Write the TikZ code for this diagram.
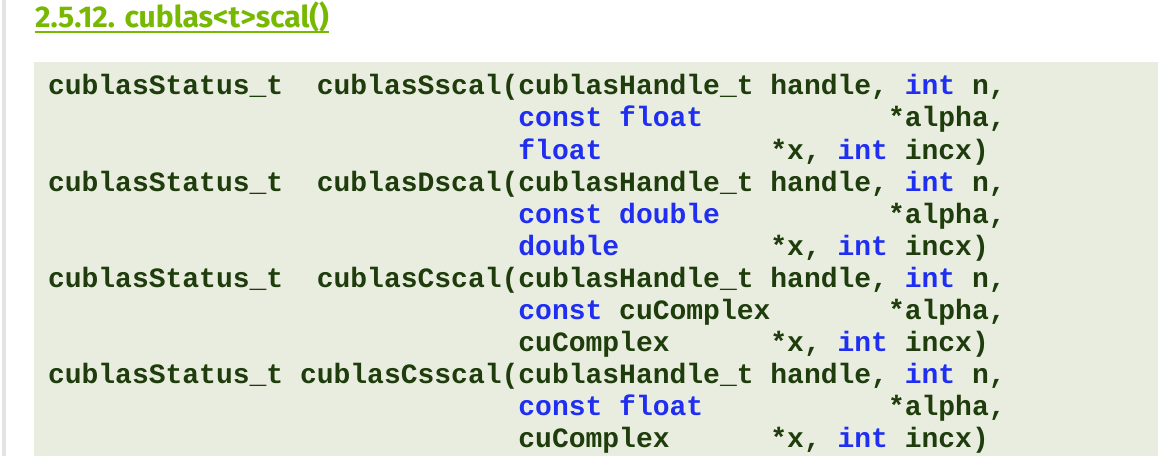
\documentclass[tikz,border=0pt]{standalone}
\usepackage{fontspec}
\setmonofont{Liberation Mono}
\newfontfamily\titlefont{Fira Sans}
\definecolor{codebg}{HTML}{E9EDE0}
\definecolor{codetx}{HTML}{1F3D0C}
\definecolor{kw}{HTML}{1F2EF0}
\definecolor{ttl}{HTML}{76B900}
\definecolor{strip}{HTML}{E4E4E4}
\tikzset{seg/.style={anchor=base west,inner sep=0pt,outer sep=0pt,font=\ttfamily\bfseries\fontsize{28}{30}\selectfont,text=codetx},
 k/.style={seg,text=kw}}
\newcommand{\cw}{16.8}
\begin{document}
\begin{tikzpicture}[x=1pt,y=1pt]
\useasboundingbox (0,0) rectangle (1158,456);
\fill[white] (0,0) rectangle (1158,456);
\fill[strip] (2,0) rectangle (6,456);
\fill[codebg] (34,0) rectangle (1158,394);
\node[anchor=base west,inner sep=0pt,text=ttl,font=\titlefont\bfseries\fontsize{30}{32}\selectfont] (title) at (35,428) {2.5.12. cublas<t>scal()};
\draw[ttl,line width=1.3pt] (title.south west|-0,424) -- (title.south east|-0,424);
\foreach \fn/\ty/\tp/\sa/\sb [count=\i from 0] in {
  {cublasSscal(}/{const float}/{float}/1/1,
  {cublasDscal(}/{const double}/{double}/1/1,
  {cublasCscal(}/{const }/{cuComplex}/0/0,
  {cublasCsscal(}/{const float}/{cuComplex}/1/0}{
  \pgfmathsetmacro{\ya}{456-95-96*\i}
  \pgfmathsetmacro{\yb}{\ya-32}
  \pgfmathsetmacro{\yc}{\ya-64}
  \node[seg] (ret\i) at (48,\ya) {cublasStatus\_t};
  \node[seg] (fn\i) at ({48+(\i==3?15:16)*\cw},\ya) {\fn};
  \node[seg] (h\i) at ({48+28*\cw},\ya) {cublasHandle\_t handle,};
  \node[k] (ia\i) at ({48+51*\cw},\ya) {int};
  \node[seg] (n\i) at ({48+55*\cw},\ya) {n,};
  \ifnum\sa=1 \node[k] (t\i) at ({48+28*\cw},\yb) {\ty};
  \else \node[k] (t\i) at ({48+28*\cw},\yb) {const}; \node[seg] at ({48+34*\cw},\yb) {cuComplex};\fi
  \node[seg] (al\i) at ({48+50*\cw},\yb) {*alpha,};
  \ifnum\sb=1 \node[k] (p\i) at ({48+28*\cw},\yc) {\tp};
  \else \node[seg] (p\i) at ({48+28*\cw},\yc) {\tp};\fi
  \node[seg] (x\i) at ({48+43*\cw},\yc) {*x,};
  \node[k] (ib\i) at ({48+47*\cw},\yc) {int};
  \node[seg] (inc\i) at ({48+51*\cw},\yc) {incx)};
}
\end{tikzpicture}
\end{document}
